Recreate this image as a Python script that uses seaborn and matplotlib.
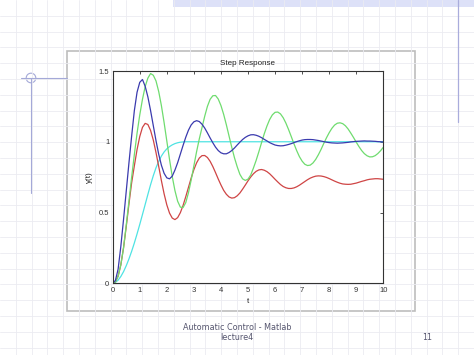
import numpy as np
import pandas as pd
import matplotlib
matplotlib.use("Agg")
import matplotlib.pyplot as plt
import seaborn as sns
from matplotlib.patches import Rectangle, Circle
from matplotlib.lines import Line2D

# sample times of the step responses (0 .. 10 s, every 0.1 s)
t_values = np.linspace(0, 10, 101)

# values
blue_y = [0.00, 0.02, 0.10, 0.26, 0.45, 0.65, 0.85, 1.04, 1.22, 1.35,
          1.42, 1.44, 1.392, 1.317, 1.220, 1.114, 1.008, 0.912, 0.834, 0.777,
          0.745, 0.738, 0.757, 0.800, 0.852, 0.913, 0.974, 1.032, 1.082, 1.119,
          1.141, 1.149, 1.143, 1.124, 1.097, 1.063, 1.027, 0.993, 0.962, 0.938,
          0.922, 0.915, 0.915, 0.924, 0.938, 0.956, 0.977, 0.997, 1.016, 1.031,
          1.042, 1.049, 1.050, 1.046, 1.039, 1.029, 1.017, 1.006, 0.994, 0.985,
          0.977, 0.973, 0.971, 0.972, 0.976, 0.981, 0.987, 0.994, 1.001, 1.007,
          1.012, 1.015, 1.016, 1.016, 1.015, 1.012, 1.009, 1.005, 1.001, 0.997,
          0.994, 0.992, 0.991, 0.990, 0.991, 0.992, 0.994, 0.996, 0.999, 1.001,
          1.003, 1.004, 1.005, 1.006, 1.005, 1.005, 1.004, 1.003, 1.001, 1.000,
          0.998]

green_y = [0.00, 0.01, 0.05, 0.13, 0.25, 0.41, 0.58, 0.75, 0.91, 1.06,
           1.19, 1.30, 1.39, 1.45, 1.482, 1.47, 1.43, 1.355, 1.255, 1.135,
           1.005, 0.875, 0.755, 0.655, 0.58, 0.538, 0.535, 0.57, 0.64, 0.73,
           0.83, 0.93, 1.02, 1.10, 1.18, 1.25, 1.30, 1.325, 1.327, 1.302,
           1.256, 1.194, 1.120, 1.040, 0.961, 0.887, 0.824, 0.770, 0.738, 0.727,
           0.736, 0.765, 0.814, 0.868, 0.929, 0.993, 1.056, 1.111, 1.157, 1.190,
           1.208, 1.210, 1.197, 1.170, 1.132, 1.086, 1.036, 0.985, 0.937, 0.895,
           0.863, 0.841, 0.832, 0.835, 0.850, 0.875, 0.908, 0.946, 0.988, 1.028,
           1.064, 1.095, 1.118, 1.131, 1.134, 1.128, 1.113, 1.090, 1.061, 1.030,
           0.997, 0.966, 0.938, 0.916, 0.901, 0.893, 0.894, 0.902, 0.917, 0.937,
           0.961]

red_y = [0.00, 0.01, 0.05, 0.13, 0.25, 0.40, 0.56, 0.71, 0.83, 0.945,
         1.037, 1.102, 1.130, 1.122, 1.080, 1.012, 0.924, 0.826, 0.725, 0.632,
         0.554, 0.496, 0.461, 0.450, 0.464, 0.499, 0.550, 0.612, 0.678, 0.744,
         0.803, 0.851, 0.885, 0.902, 0.903, 0.889, 0.862, 0.825, 0.782, 0.737,
         0.695, 0.657, 0.629, 0.610, 0.602, 0.605, 0.618, 0.638, 0.665, 0.694,
         0.724, 0.751, 0.774, 0.791, 0.801, 0.804, 0.799, 0.789, 0.774, 0.755,
         0.735, 0.716, 0.698, 0.684, 0.675, 0.670, 0.670, 0.674, 0.682, 0.693,
         0.706, 0.719, 0.732, 0.743, 0.751, 0.757, 0.759, 0.758, 0.754, 0.748,
         0.740, 0.731, 0.722, 0.714, 0.707, 0.702, 0.700, 0.699, 0.700, 0.704,
         0.708, 0.714, 0.720, 0.725, 0.731, 0.735, 0.737, 0.739, 0.739, 0.737,
         0.735]

cyan_y = [0.000, 0.006, 0.022, 0.048, 0.082, 0.124, 0.172, 0.226, 0.285, 0.349,
          0.416, 0.486, 0.557, 0.628, 0.697, 0.760, 0.816, 0.862, 0.899, 0.928,
          0.950, 0.966, 0.978, 0.987, 0.993, 0.997, 0.999] + [1.0] * 74

series_names = ["cyan", "red", "green", "blue"]
series_colors = {"cyan": "#4fe3e3", "red": "#cf4545", "green": "#6fdc6f", "blue": "#3a3aae"}

x_ticks = list(range(0, 11))
y_ticks = [0, 0.5, 1, 1.5]
y_tick_labels = ["0", "0.5", "1", "1.5"]

df = pd.concat([
    pd.DataFrame({"t": t_values, "y": cyan_y, "series": "cyan"}),
    pd.DataFrame({"t": t_values, "y": red_y, "series": "red"}),
    pd.DataFrame({"t": t_values, "y": green_y, "series": "green"}),
    pd.DataFrame({"t": t_values, "y": blue_y, "series": "blue"}),
], ignore_index=True)

sns.set_style("white")
W, H = 474, 355
fig = plt.figure(figsize=(W / 100, H / 100), dpi=100)
fig.patch.set_facecolor("white")

# slide background in pixel coords
bg = fig.add_axes([0, 0, 1, 1], zorder=0)
bg.set_xlim(0, W)
bg.set_ylim(H, 0)
bg.axis("off")
grid_col = "#ebebf1"
step = 15.8
for k in range(1, 31):
    bg.add_line(Line2D([k * step, k * step], [0, H], color=grid_col, lw=0.6))
    bg.add_line(Line2D([0, W], [k * step, k * step], color=grid_col, lw=0.6))
bg.add_patch(Rectangle((173, 0), W - 173, 7, facecolor="#dde1f8", edgecolor="none"))
bg.add_line(Line2D([458, 458], [0, 122], color="#a9acdc", lw=0.9))
deco = "#a4a9d8"
bg.add_line(Line2D([21, 67], [78, 78], color=deco, lw=0.8))
bg.add_line(Line2D([31, 31], [78, 193], color=deco, lw=0.8))
bg.add_patch(Circle((31, 78), 4.8, facecolor="none", edgecolor=deco, lw=0.8))
bg.add_patch(Rectangle((67, 51), 348, 260, facecolor="white", edgecolor="#bdbdbd", lw=1.2))
foot_col = "#55556e"
bg.text(237, 328, "Automatic Control - Matlab", ha="center", va="center",
        fontsize=5.8, color=foot_col, family="DejaVu Sans")
bg.text(237, 338, "lecture4", ha="center", va="center",
        fontsize=5.8, color=foot_col, family="DejaVu Sans")
bg.text(427, 338, "11", ha="center", va="center",
        fontsize=5.8, color=foot_col, family="DejaVu Sans")

# the step response plot
left, right, top, bottom = 112.7, 383.3, 71, 283.3
ax = fig.add_axes([left / W, 1 - bottom / H, (right - left) / W, (bottom - top) / H], zorder=2)
ax.set_facecolor("white")
sns.lineplot(data=df, x="t", y="y", hue="series", hue_order=series_names,
             palette=series_colors, legend=False, linewidth=0.9, ax=ax)
ax.set_xlim(0, 10)
ax.set_ylim(0, 1.5)
ax.set_xticks(x_ticks)
ax.set_xticklabels([str(k) for k in x_ticks])
ax.set_yticks(y_ticks)
ax.set_yticklabels(y_tick_labels)
for s in ax.spines.values():
    s.set_visible(True)
    s.set_color("#333333")
    s.set_linewidth(0.8)
ax.tick_params(direction="in", length=2.5, width=0.6, top=True, right=True,
               labelsize=5.5, pad=2.5, colors="#333333")
for lab in ax.get_xticklabels() + ax.get_yticklabels():
    lab.set_family("Liberation Sans")
ax.set_title("Step Response", fontsize=5.8, family="Liberation Sans", pad=4.5, color="#222222")
ax.set_xlabel("t", fontsize=5.8, family="Liberation Sans", labelpad=3, color="#222222")
ax.set_ylabel("y(t)", fontsize=5.8, family="Liberation Sans", labelpad=4, color="#222222")

fig.savefig("out.png", dpi=100)
